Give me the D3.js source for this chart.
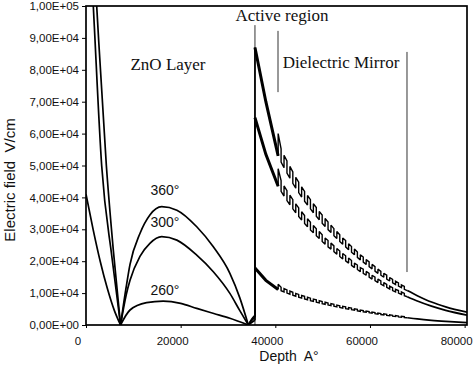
<!DOCTYPE html>
<html><head><meta charset="utf-8">
<script src="https://cdn.jsdelivr.net/npm/d3@7"></script>
<style>body{margin:0;background:#fff}svg{display:block}</style>
</head><body><svg id="c" width="474" height="366"></svg>
<script>
// ---------- data ----------
const xTicks = [0, 20000, 40000, 60000, 80000];
const xTickLabels = ["0", "20000", "40000", "60000", "80000"];
const yTicks = [0, 10000, 20000, 30000, 40000, 50000, 60000, 70000, 80000, 90000, 100000];
const yTickLabels = ["0,00E+00","1,00E+04","2,00E+04","3,00E+04","4,00E+04","5,00E+04",
                     "6,00E+04","7,00E+04","8,00E+04","9,00E+04","1,00E+05"];

// layer interfaces of the dielectric mirror (depth, Å)
const mirrorLayers = [40600, 41220, 41840, 42460, 43080, 43700, 44320, 44940, 45560, 46180,
  46800, 47420, 48040, 48660, 49280, 49900, 50520, 51140, 51760, 52380, 53000, 53620, 54240,
  54860, 55480, 56100, 56720, 57340, 57960, 58580, 59200, 59820, 60440, 61060, 61680, 62300,
  62920, 63540, 64160, 64780, 65400, 66020, 66640, 67260, 67880];

// ---- 360° ----
const zno360 = [
  [[0,160000],[2260,100000],[4300,50000],[5800,23000],[7300,0]],
  [[7300,0],[8500,12000],[9300,19000],[11400,28700],[13500,34500],[16000,37100],[19200,36000],
   [23400,30800],[26900,24500],[30400,16200],[32500,8500],[34300,0]],
  [[34300,0],[35000,1800],[35700,3000]]];
const active360 = [[35700,87000],[38000,70000],[40600,53000]];
const mirrorLow360 = [53000, 51100, 49300, 47600, 46000, 44400, 42900, 41500, 40100, 38800, 37600,
  36400, 35200, 34100, 33000, 31900, 30900, 29900, 29000, 28000, 27100, 26200, 25300, 24500, 23600,
  22800, 22000, 21200, 20400, 19700, 19000, 18300, 17600, 16900, 16200, 15600, 15000, 14400, 13800,
  13200, 12700, 12200, 11700, 11200, 10800];
const mirrorHigh360 = [60000, 55200, 53200, 51400, 49700, 48000, 46300, 44800, 43300, 41900, 40600,
  39300, 38000, 36800, 35600, 34500, 33400, 32300, 31300, 30200, 29300, 28300, 27300, 26500, 25500,
  24600, 23800, 22900, 22000, 21300, 20500, 19800, 19000, 18300, 17500, 16800, 16200, 15600, 14900,
  14300, 13700, 13200, 12600, 12100, 11700];
const tail360 = [[67880,10800],[70000,9200],[73000,7200],[76000,5700],[80500,4000]];

// ---- 300° ----
const zno300 = [
  [[0,143000],[1540,100000],[3310,50000],[5500,21000],[7300,0]],
  [[7300,0],[8500,9500],[9300,14000],[11400,21500],[13500,25600],[16000,27700],[19200,26600],
   [23400,21900],[26900,16700],[30400,9900],[32500,4500],[34300,0]],
  [[34300,0],[35000,1400],[35700,2500]]];
const active300 = [[35700,65000],[38000,53500],[40600,43500]];
const mirrorLow300 = [43500, 41900, 40400, 39000, 37700, 36400, 35200, 34000, 32900, 31800, 30800,
  29800, 28900, 28000, 27100, 26200, 25300, 24500, 23800, 23000, 22200, 21500, 20700, 20100, 19400,
  18700, 18000, 17400, 16700, 16200, 15600, 15000, 14400, 13900, 13300, 12800, 12300, 11800, 11300,
  10800, 10400, 10000, 9590, 9180, 8860];
const mirrorHigh300 = [49000, 45300, 43600, 42100, 40700, 39300, 38000, 36700, 35500, 34300, 33300,
  32200, 31200, 30200, 29300, 28300, 27300, 26500, 25700, 24800, 24000, 23200, 22400, 21700, 21000,
  20200, 19400, 18800, 18000, 17500, 16800, 16200, 15600, 15000, 14400, 13800, 13300, 12700, 12200,
  11700, 11200, 10800, 10400, 9910, 9570];
const tail300 = [[67880,8860],[70000,7500],[73000,5900],[76000,4600],[80500,3100]];

// ---- 260° ----
const zno260 = [
  [[0,41000],[1500,30000],[3000,20000],[4500,11500],[6000,4500],[7300,0]],
  [[7300,0],[9300,4700],[12800,7000],[16300,7500],[20000,6800],[23400,5200],[27000,3600],
   [30400,2100],[34300,0]],
  [[34300,0],[35000,800],[35700,1500]]];
const active260 = [[35700,17900],[38000,14000],[40600,11130]];
const mirrorLow260 = [11130, 10730, 10350, 10000, 9660, 9320, 9010, 8720, 8420, 8150, 7900, 7640,
  7390, 7160, 6930, 6700, 6490, 6280, 6090, 5880, 5690, 5500, 5310, 5150, 4960, 4790, 4620, 4450,
  4280, 4140, 3990, 3840, 3700, 3550, 3400, 3280, 3150, 3020, 2900, 2770, 2670, 2560, 2460, 2350, 2270];
const mirrorHigh260 = [12800, 11800, 11390, 11000, 10630, 10250, 9910, 9590, 9260, 8970, 8690, 8400,
  8130, 7880, 7620, 7370, 7140, 6910, 6700, 6470, 6260, 6050, 5840, 5670, 5460, 5270, 5080, 4900,
  4710, 4550, 4390, 4220, 4070, 3910, 3740, 3610, 3470, 3320, 3190, 3050, 2940, 2820, 2710, 2590, 2500];
const tail260 = [[67880,2270],[70000,1900],[73000,1480],[76000,1150],[80500,750]];

// region marker lines [depth, top value, bottom value]
const markers = [[35700, 94000, 0], [40570, 92200, 73000], [67820, 85600, 16600]];

// ---------- chart ----------
const L = 86, R = 467, T = 6, B = 325;
const x = d3.scaleLinear().domain([0, 80500]).range([L, R]);
const y = d3.scaleLinear().domain([0, 100000]).range([B, T]);
const svg = d3.select("#c");

svg.append("defs").append("clipPath").attr("id","clip")
  .append("rect").attr("x", L).attr("y", T).attr("width", R - L).attr("height", B - T);

const smooth = d3.line().x(d => x(d[0])).y(d => y(d[1])).curve(d3.curveMonotoneX);
const straight = d3.line().x(d => x(d[0])).y(d => y(d[1]));

function mirrorPts(low, high) {
  const pts = [];
  for (let k = 0; k < mirrorLayers.length - 1; k++) {
    const env = (k % 2 === 0) ? high : low;   // high-field / low-field layers alternate
    pts.push([mirrorLayers[k], env[k]]);
    pts.push([mirrorLayers[k + 1], env[k + 1]]);
  }
  return pts;
}
const curves = [
  {zno: zno360, active: active360, low: mirrorLow360, high: mirrorHigh360, tail: tail360},
  {zno: zno300, active: active300, low: mirrorLow300, high: mirrorHigh300, tail: tail300},
  {zno: zno260, active: active260, low: mirrorLow260, high: mirrorHigh260, tail: tail260}
];

const g = svg.append("g").attr("clip-path", "url(#clip)");

// marker lines
g.selectAll("line.mk").data(markers).join("line").attr("class","mk")
  .attr("x1", d => x(d[0])).attr("x2", d => x(d[0]))
  .attr("y1", d => y(d[1])).attr("y2", d => y(d[2]))
  .attr("stroke", "#333").attr("stroke-width", 1);

const stroke = (sel, w) => sel.attr("fill","none").attr("stroke","#000").attr("stroke-width", w)
  .attr("stroke-linejoin","miter").attr("stroke-miterlimit", 2);

curves.forEach(c => {
  c.zno.forEach(seg => stroke(g.append("path").attr("d", smooth(seg)), 1.7));
  const last = c.zno[c.zno.length - 1];
  stroke(g.append("path").attr("d", straight([last[last.length - 1], c.active[0]])), 1.7);
  stroke(g.append("path").attr("d", straight(c.active)), 3);
  const mp = mirrorPts(c.low, c.high);
  stroke(g.append("path").attr("d", straight([c.active[c.active.length - 1], ...mp])), 1.4);
  stroke(g.append("path").attr("d", smooth(c.tail)), 1.7);
});

// axes
const fontSans = "Liberation Sans, Arial, sans-serif";
const yAxis = d3.axisLeft(y).tickValues(yTicks).tickFormat((d, i) => yTickLabels[i]).tickSize(4).tickPadding(3);
const ya = svg.append("g").attr("transform", `translate(${L},0)`).call(yAxis);
ya.select(".domain").remove();
ya.selectAll("text").attr("font-family", fontSans).attr("font-size", 11.5).attr("fill", "#111");
const xAxis = d3.axisBottom(x).tickValues(xTicks).tickFormat((d, i) => xTickLabels[i]).tickSize(3).tickPadding(9);
const xa = svg.append("g").attr("transform", `translate(0,${B})`).call(xAxis);
xa.select(".domain").remove();
xa.selectAll("text").attr("font-family", fontSans).attr("font-size", 11.5).attr("fill", "#111").attr("dx", -8.5);

// frame
svg.append("rect").attr("x", L).attr("y", T).attr("width", R - L).attr("height", B - T)
  .attr("fill","none").attr("stroke","#000").attr("stroke-width", 1.7);

// titles
svg.append("text").attr("transform", "translate(15,180) rotate(-90)").attr("text-anchor","middle")
  .attr("font-family", fontSans).attr("font-size", 15).attr("fill","#111").attr("xml:space","preserve")
  .text("Electric field  V/cm");
svg.append("text").attr("x", 289).attr("y", 361).attr("text-anchor","middle")
  .attr("font-family", fontSans).attr("font-size", 14).attr("fill","#111").attr("xml:space","preserve")
  .text("Depth  A°");

const fontSerif = "Liberation Serif, Times New Roman, serif";
[["ZnO Layer", 168, 70], ["Active region", 282, 21], ["Dielectric Mirror", 341, 68]].forEach(t => {
  svg.append("text").attr("x", t[1]).attr("y", t[2]).attr("text-anchor","middle")
    .attr("font-family", fontSerif).attr("font-size", 17).attr("fill","#111").text(t[0]);
});
[["360°", 165, 195], ["300°", 165, 227], ["260°", 165, 295]].forEach(t => {
  svg.append("text").attr("x", t[1]).attr("y", t[2]).attr("text-anchor","middle")
    .attr("font-family", fontSans).attr("font-size", 14).attr("fill","#111").text(t[0]);
});
</script></body></html>
